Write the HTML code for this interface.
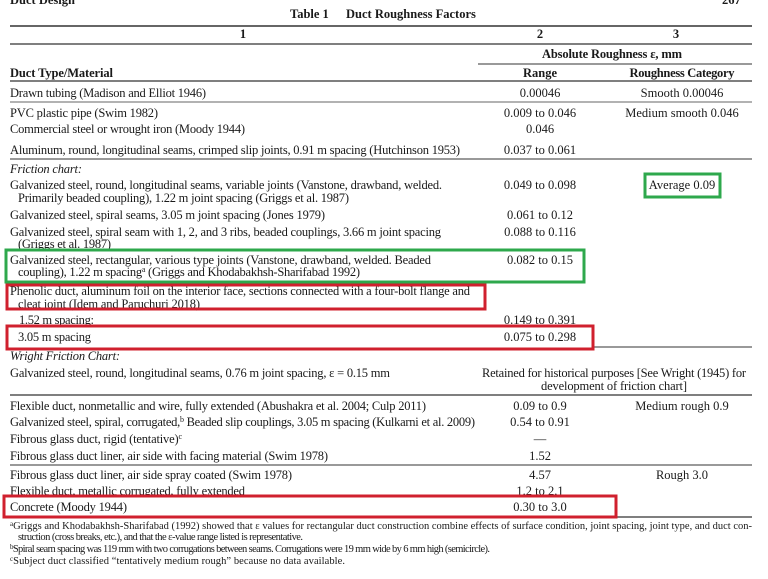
<!DOCTYPE html>
<html><head><meta charset="utf-8"><style>
html,body{margin:0;padding:0;background:#fff;}
svg{display:block;}
text{font-family:"Liberation Serif",serif;font-size:12.5px;fill:#1a1a1a;}
.b{font-weight:bold;}
.i{font-style:italic;}
.f{font-size:10.5px;}
.c{text-anchor:middle;}
</style></head><body>
<svg width="768" height="579" viewBox="0 0 768 579" xmlns="http://www.w3.org/2000/svg">
<text x="10" y="4" class="b" font-size="13">Duct Design</text>
<text x="722" y="4" class="b" font-size="13">267</text>
<text x="290" y="18" class="b" font-size="13.5">Table 1</text>
<text x="346" y="18" class="b" font-size="13.5">Duct Roughness Factors</text>
<g stroke="#333" fill="none">
<line x1="10" y1="26" x2="752" y2="26" stroke-width="1.6"/>
<line x1="10" y1="44" x2="752" y2="44" stroke-width="1.2"/>
<line x1="478" y1="64" x2="752" y2="64" stroke-width="1"/>
<line x1="10" y1="81" x2="752" y2="81" stroke-width="1.2"/>
<line x1="10" y1="102" x2="752" y2="102" stroke-width="0.8"/>
<line x1="10" y1="159" x2="752" y2="159" stroke-width="1"/>
<line x1="594" y1="347" x2="752" y2="347" stroke-width="1"/>
<line x1="10" y1="395" x2="752" y2="395" stroke-width="1.2"/>
<line x1="10" y1="465" x2="752" y2="465" stroke-width="1"/>
<line x1="616" y1="517" x2="752" y2="517" stroke-width="1.2"/>
</g>
<text x="243" y="38" class="b c">1</text>
<text x="540" y="38" class="b c">2</text>
<text x="676" y="38" class="b c">3</text>
<text x="612" y="58" class="b c" textLength="140">Absolute Roughness ε, mm</text>
<text x="10" y="77" class="b" textLength="103">Duct Type/Material</text>
<text x="540" y="77" class="b c">Range</text>
<text x="682" y="77" class="b c" textLength="105">Roughness Category</text>

<text x="10" y="97" textLength="196">Drawn tubing (Madison and Elliot 1946)</text>
<text x="540" y="97" class="c">0.00046</text>
<text x="682" y="97" class="c">Smooth 0.00046</text>
<text x="10" y="117" textLength="148">PVC plastic pipe (Swim 1982)</text>
<text x="540" y="117" class="c">0.009 to 0.046</text>
<text x="682" y="117" class="c">Medium smooth 0.046</text>
<text x="10" y="133" textLength="235">Commercial steel or wrought iron (Moody 1944)</text>
<text x="540" y="133" class="c">0.046</text>
<text x="10" y="154" textLength="450">Aluminum, round, longitudinal seams, crimped slip joints, 0.91 m spacing (Hutchinson 1953)</text>
<text x="540" y="154" class="c">0.037 to 0.061</text>

<text x="10" y="173" class="i" textLength="72">Friction chart:</text>
<text x="10" y="189" textLength="432">Galvanized steel, round, longitudinal seams, variable joints (Vanstone, drawband, welded.</text>
<text x="540" y="189" class="c">0.049 to 0.098</text>
<text x="18" y="202" textLength="331">Primarily beaded coupling), 1.22 m joint spacing (Griggs et al. 1987)</text>
<text x="682" y="189" class="c">Average 0.09</text>
<text x="10" y="219" textLength="315">Galvanized steel, spiral seams, 3.05 m joint spacing (Jones 1979)</text>
<text x="540" y="219" class="c">0.061 to 0.12</text>
<text x="10" y="236" textLength="431">Galvanized steel, spiral seam with 1, 2, and 3 ribs, beaded couplings, 3.66 m joint spacing</text>
<text x="540" y="236" class="c">0.088 to 0.116</text>
<text x="18" y="248" textLength="93">(Griggs et al. 1987)</text>
<text x="10" y="264" textLength="421">Galvanized steel, rectangular, various type joints (Vanstone, drawband, welded. Beaded</text>
<text x="540" y="264" class="c">0.082 to 0.15</text>
<text x="18" y="276" textLength="342">coupling), 1.22 m spacing<tspan font-size="8" dy="-4">a</tspan><tspan dy="4"> (Griggs and Khodabakhsh-Sharifabad 1992)</tspan></text>
<text x="10" y="295" textLength="460">Phenolic duct, aluminum foil on the interior face, sections connected with a four-bolt flange and</text>
<text x="18" y="308" textLength="182">cleat joint (Idem and Paruchuri 2018)</text>
<text x="19" y="324" textLength="75">1.52 m spacing:</text>
<text x="540" y="324" class="c">0.149 to 0.391</text>
<text x="18" y="341" textLength="73">3.05 m spacing</text>
<text x="540" y="341" class="c">0.075 to 0.298</text>

<text x="10" y="360" class="i" textLength="110">Wright Friction Chart:</text>
<text x="10" y="377" textLength="380">Galvanized steel, round, longitudinal seams, 0.76 m joint spacing, ε = 0.15 mm</text>
<text x="614" y="377" class="c" textLength="264">Retained for historical purposes [See Wright (1945) for</text>
<text x="614" y="390" class="c" textLength="146">development of friction chart]</text>

<text x="10" y="410" textLength="416">Flexible duct, nonmetallic and wire, fully extended (Abushakra et al. 2004; Culp 2011)</text>
<text x="540" y="410" class="c">0.09 to 0.9</text>
<text x="682" y="410" class="c">Medium rough 0.9</text>
<text x="10" y="426" textLength="465">Galvanized steel, spiral, corrugated,<tspan font-size="8" dy="-4">b</tspan><tspan dy="4"> Beaded slip couplings, 3.05 m spacing (Kulkarni et al. 2009)</tspan></text>
<text x="540" y="426" class="c">0.54 to 0.91</text>
<text x="10" y="443" textLength="172">Fibrous glass duct, rigid (tentative)<tspan font-size="8" dy="-4">c</tspan></text>
<text x="540" y="443" class="c">—</text>
<text x="10" y="460" textLength="318">Fibrous glass duct liner, air side with facing material (Swim 1978)</text>
<text x="540" y="460" class="c">1.52</text>
<text x="10" y="479" textLength="282">Fibrous glass duct liner, air side spray coated (Swim 1978)</text>
<text x="540" y="479" class="c">4.57</text>
<text x="682" y="479" class="c">Rough 3.0</text>
<text x="10" y="495" textLength="235">Flexible duct, metallic corrugated, fully extended</text>
<text x="540" y="495" class="c">1.2 to 2.1</text>
<text x="10" y="511" textLength="117">Concrete (Moody 1944)</text>
<text x="540" y="511" class="c">0.30 to 3.0</text>

<text x="10" y="529" class="f" textLength="742"><tspan font-size="7" dy="-3">a</tspan><tspan dy="3">Griggs and Khodabakhsh-Sharifabad (1992) showed that ε values for rectangular duct construction combine effects of surface condition, joint spacing, joint type, and duct con-</tspan></text>
<text x="18" y="540" class="f" textLength="285">struction (cross breaks, etc.), and that the ε-value range listed is representative.</text>
<text x="10" y="552" class="f" font-size="9.6" textLength="480"><tspan font-size="7" dy="-3">b</tspan><tspan dy="3">Spiral seam spacing was 119 mm with two corrugations between seams. Corrugations were 19 mm wide by 6 mm high (semicircle).</tspan></text>
<text x="10" y="564" class="f" textLength="335"><tspan font-size="7" dy="-3">c</tspan><tspan dy="3">Subject duct classified “tentatively medium rough” because no data available.</tspan></text>

<g fill="none" stroke-width="3">
<rect x="645" y="174" width="75" height="23" stroke="#2ea84c"/>
<rect x="6" y="250" width="578" height="32" stroke="#2ea84c"/>
<rect x="7" y="285" width="478" height="24" stroke="#d0202e"/>
<rect x="7" y="326" width="586" height="23" stroke="#d0202e"/>
<rect x="4" y="496" width="612" height="21" stroke="#d0202e"/>
</g>
</svg>
</body></html>
